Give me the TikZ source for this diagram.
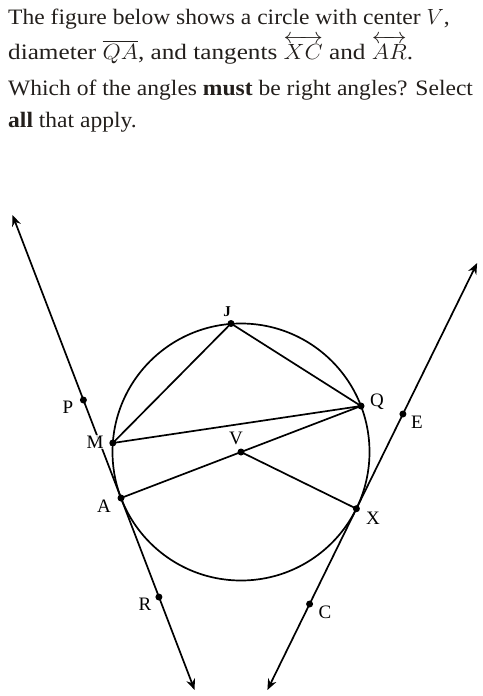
\RequirePackage{fix-cm}
\documentclass[tikz,border=0pt]{standalone}
\usepackage{amsmath}
\usepackage{graphicx}
\usepackage{fontspec}
\setmainfont{Liberation Serif}
\newfontfamily\qfont[FakeStretch=1.07]{Liberation Serif}
\usetikzlibrary{arrows.meta}
\definecolor{ink}{HTML}{231F1C}
\tikzset{
  qtext/.style={anchor=base west, inner sep=0pt, text=ink, font=\qfont\fontsize{22}{26}\selectfont},
  lbl/.style={inner sep=1pt, text=black, font=\fontsize{19}{21}\selectfont},
  dot/.style={circle, fill=black, inner sep=0pt, minimum size=7pt},
  geo/.style={line width=1.7pt, black},
  ray/.style={line width=1.7pt, black, -{Stealth[length=11pt,width=9pt]}}
}
\begin{document}
\begin{tikzpicture}[x=1pt,y=-1pt]
\useasboundingbox (0,0) rectangle (482,696);
% question text
\node[qtext] (t1) at (8,24) {The figure below shows a circle with center $V$,};
\node[qtext] (t2) at (8,59) {\scalebox{1.07}[1]{diameter $\overline{QA}$, and tangents $\overleftrightarrow{XC}$ and $\overleftrightarrow{AR}$.}};
\node[qtext] (t3) at (8,95) {Which of the angles \textbf{must} be right angles? Select};
\node[qtext] (t4) at (8,127) {\textbf{all} that apply.};
% points
\coordinate (V) at (241,452);
\coordinate (Q) at (361,406);
\coordinate (A) at (121,498);
\coordinate (J) at (231,323.5);
\coordinate (M) at (112.8,443);
\coordinate (X) at (356.4,508.7);
\coordinate (T1) at (12.5,215);
\coordinate (B1) at (194.6,690);
\coordinate (P) at (83.4,400);
\coordinate (R) at (158.9,597);
\coordinate (T2) at (477.1,263);
\coordinate (B2) at (267.4,690);
\coordinate (E) at (402.9,414);
\coordinate (C) at (309.6,604);
% circle and chords
\draw[geo] (V) circle[radius=128.5];
\draw[geo] (M) -- (J) -- (Q) -- (M);
\draw[geo] (Q) -- (A);
\draw[geo] (V) -- (X);
% tangent lines
\draw[ray] (A) -- (T1);
\draw[ray] (A) -- (B1);
\draw[ray] (X) -- (T2);
\draw[ray] (X) -- (B2);
% labels
\node[lbl, font=\bfseries\fontsize{15}{17}\selectfont] (lJ) at (227,312) {J};
\node[lbl] (lP) at (68,407) {P};
\node[lbl, fill=white, fill opacity=0.8, text opacity=1] (lM) at (95,442) {M};
\node[lbl] (lV) at (236,438) {V};
\node[lbl] (lQ) at (377,402) {Q};
\node[lbl] (lE) at (417,422) {E};
\node[lbl] (lX) at (373,518) {X};
\node[lbl] (lA) at (104,506) {A};
\node[lbl] (lR) at (145,604) {R};
\node[lbl] (lC) at (325,612) {C};
% dots
\foreach \p in {V,Q,A,J,M,X,P,R,E,C} \node[dot] (d\p) at (\p) {};
\end{tikzpicture}
\end{document}
